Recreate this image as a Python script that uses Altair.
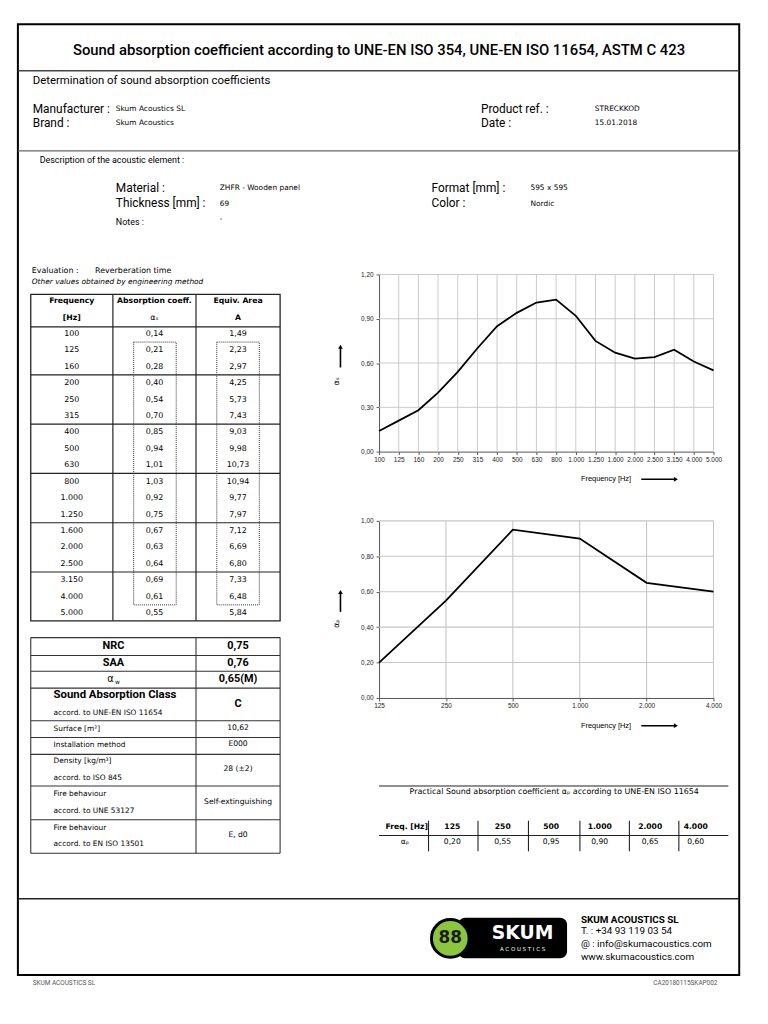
import altair as alt
import pandas as pd

# ---------------- data ----------------
freq_labels = ["100", "125", "160", "200", "250", "315", "400", "500", "630", "800",
               "1.000", "1.250", "1.600", "2.000", "2.500", "3.150", "4.000", "5.000"]
alpha_s = [0.14, 0.21, 0.28, 0.40, 0.54, 0.70, 0.85, 0.94, 1.01, 1.03,
           0.92, 0.75, 0.67, 0.63, 0.64, 0.69, 0.61, 0.55]
equiv_area = [1.49, 2.23, 2.97, 4.25, 5.73, 7.43, 9.03, 9.98, 10.73, 10.94,
              9.77, 7.97, 7.12, 6.69, 6.80, 7.33, 6.48, 5.84]
oct_labels = ["125", "250", "500", "1.000", "2.000", "4.000"]
alpha_p = [0.20, 0.55, 0.95, 0.90, 0.65, 0.60]
alpha_s_ticks = [0.0, 0.3, 0.6, 0.9, 1.2]
alpha_p_ticks = [0.0, 0.2, 0.4, 0.6, 0.8, 1.0]

summary_names = ["NRC", "SAA"]
summary_vals = ["0,75", "0,76"]
alpha_w_val = "0,65(M)"
sound_class = "C"
surface = "10,62"
install_method = "E000"
density = "28 (±2)"
fire_une = "Self-extinguishing"
fire_en = "E, d0"


def fmt(v):
    return f"{v:.2f}".replace(".", ",")


# ---------------- layout helpers ----------------
OX, OY = 8, 8
W, H = 760, 1000
AXF = "Liberation Sans"
LBL_EXPR = "replace(format(datum.value, '.2f'), '.', ',')"


def px(v):
    return v - OX


def py(v):
    return v - OY


XN = lambda f="x": alt.X(f"{f}:Q", scale=None, axis=None)
YN = lambda f="y": alt.Y(f"{f}:Q", scale=None, axis=None)


def texts(rows, **kw):
    df = pd.DataFrame(rows, columns=["t", "x", "y"])
    df["x"] = df["x"] - OX
    df["y"] = df["y"] - OY
    style = dict(align="left", baseline="middle", font="Roboto", fontSize=10, color="black")
    style.update(kw)
    return alt.Chart(df).mark_text(**style).encode(x=XN(), y=YN(), text="t:N")


def rules(segs, **kw):
    df = pd.DataFrame(segs, columns=["x", "y", "x2", "y2"])
    df["x"] -= OX; df["x2"] -= OX; df["y"] -= OY; df["y2"] -= OY
    style = dict(color="black", strokeWidth=1)
    style.update(kw)
    return alt.Chart(df).mark_rule(**style).encode(x=XN(), y=YN(), x2="x2:Q", y2="y2:Q")


def boxes(rects, **kw):
    df = pd.DataFrame(rects, columns=["x", "y", "x2", "y2"])
    df["x"] -= OX; df["x2"] -= OX; df["y"] -= OY; df["y2"] -= OY
    style = dict(fillOpacity=0, stroke="black", strokeWidth=1)
    style.update(kw)
    return alt.Chart(df).mark_rect(**style).encode(x=XN(), y=YN(), x2="x2:Q", y2="y2:Q")


def points(rows, **kw):
    df = pd.DataFrame(rows, columns=["x", "y"])
    df["x"] -= OX; df["y"] -= OY
    return alt.Chart(df).mark_point(**kw).encode(x=XN(), y=YN())


def arrow_h(x1, x2, y):
    return [rules([(x1, y, x2 - 3, y)], strokeWidth=1.6),
            points([(x2 - 3, y)], shape="triangle-right", filled=True, size=22, color="black", opacity=1)]


def arrow_v(x, y1, y2):
    return [rules([(x, y1, x, y2 + 3)], strokeWidth=1.6),
            points([(x, y2 + 3)], shape="triangle-up", filled=True, size=22, color="black", opacity=1)]


def line_chart(tag, labels, values, ticks, ymax, x0, x1, ytop, ybot, grid_color, grid_w):
    """Grid, axes and line of one frequency chart; every layer uses the same scale definition."""
    def xscale():
        return alt.Scale(type="point", domain=labels, range=[px(x0), px(x1)], padding=0)

    def yscale():
        return alt.Scale(domain=[0, ymax], range=[py(ybot), py(ytop)], nice=False, zero=True)

    xaxis = alt.Axis(orient="bottom", offset=py(ybot) - H, title=None, labelAngle=0, grid=False,
                     domainColor="#555", tickColor="#555", tickSize=3,
                     labelFont=AXF, labelFontSize=6.5, labelColor="#222", labelPadding=2)
    yaxis = alt.Axis(orient="left", offset=-px(x0), values=ticks, title=None, grid=False,
                     labelExpr=LBL_EXPR, domainColor="#555", tickColor="#555", tickSize=3,
                     labelFont=AXF, labelFontSize=6.5, labelColor="#222", labelPadding=3)

    f, lo, hi, v, f2, a = (tag + s for s in ["_f", "_lo", "_hi", "_v", "_f2", "_a"])
    gl = labels[1:]          # the first one lies on the y axis line
    gt = ticks[1:]           # the first one lies on the x axis line
    gx = pd.DataFrame({f: gl, lo: [0.0] * len(gl), hi: [ymax] * len(gl)})
    gy = pd.DataFrame({v: gt, f: [labels[0]] * len(gt), f2: [labels[-1]] * len(gt)})
    df = pd.DataFrame({f: labels, a: values})

    vgrid = alt.Chart(gx).mark_rule(color=grid_color, strokeWidth=grid_w).encode(
        x=alt.X(f"{f}:N", sort=labels, scale=xscale(), axis=None),
        y=alt.Y(f"{lo}:Q", scale=yscale(), axis=None), y2=f"{hi}:Q")
    hgrid = alt.Chart(gy).mark_rule(color=grid_color, strokeWidth=grid_w).encode(
        x=alt.X(f"{f}:N", sort=labels, scale=xscale(), axis=None), x2=f"{f2}:N",
        y=alt.Y(f"{v}:Q", scale=yscale(), axis=None))
    line = alt.Chart(df).mark_line(color="black", strokeWidth=1.8).encode(
        x=alt.X(f"{f}:N", sort=labels, scale=xscale(), axis=xaxis),
        y=alt.Y(f"{a}:Q", scale=yscale(), axis=yaxis))
    return [vgrid, hgrid, line]


layers = []

# ---------------- title + the two charts first ----------------
layers.append(texts([("Sound absorption coefficient according to UNE-EN ISO 354, UNE-EN ISO 11654, ASTM C 423", 383, 45)],
                    align="center", fontSize=15, fontWeight=500))
layers += line_chart("c1", freq_labels, alpha_s, alpha_s_ticks, 1.2, 383, 721, 272, 451, "#c9c9c9", 1)
layers += line_chart("c2", oct_labels, alpha_p, alpha_p_ticks, 1.0, 383, 721, 521, 700, "#c6c6c6", 1.1)

# chart decorations
layers.append(texts([("Frequency [Hz]", 587, 479), ("Frequency [Hz]", 587, 728)], font=AXF, fontSize=7.5))
layers.append(texts([("αₛ", 341, 380), ("αₚ", 341, 625)], font="DejaVu Sans", fontSize=8, angle=270, align="center"))
layers += arrow_h(648, 686, 479)
layers += arrow_v(344, 366, 342)
layers += arrow_h(648, 686, 728)
layers += arrow_v(344, 613, 590)

# ---------------- page frame ----------------
layers.append(boxes([(18, 19, 747, 980)], strokeWidth=2))
layers.append(rules([(18, 66, 747, 66)], strokeWidth=1.5, color="#444"))
layers.append(rules([(18, 147, 747, 147)], strokeWidth=1.2, color="#666"))
layers.append(rules([(18, 903, 747, 903)], strokeWidth=1.5, color="#222"))

# ---------------- header ----------------
layers.append(texts([("Determination of sound absorption coefficients", 33, 76)], fontSize=11.5))
layers.append(texts([("Manufacturer :", 33, 105), ("Brand :", 33, 119),
                     ("Product ref. :", 486, 105), ("Date :", 486, 119),
                     ("Material :", 117, 185), ("Thickness  [mm] :", 117, 200),
                     ("Format [mm] :", 436, 185), ("Color :", 436, 200)], fontSize=12))
layers.append(texts([("Skum Acoustics SL", 117, 105), ("Skum Acoustics", 117, 119),
                     ("STRECKKOD", 601, 105), ("15.01.2018", 601, 119),
                     ("ZHFR - Wooden panel", 222, 185), ("69", 222, 201), ("-", 222, 216),
                     ("595  x 595", 536, 185), ("Nordic", 536, 201)],
                    font="DejaVu Sans", fontSize=7.5))
layers.append(texts([("Description of the acoustic element :", 40, 156), ("Notes :", 117, 219)], fontSize=9))

# ---------------- absorption table ----------------
layers.append(texts([("Evaluation :", 32, 268), ("Reverberation time", 96, 268)], font="DejaVu Sans", fontSize=8))
layers.append(texts([("Other values obtained by engineering method", 32, 280)],
                    font="DejaVu Sans", fontSize=7.5, fontStyle="italic"))

TL, TC1, TC2, TR = 31, 114, 198, 283
T_TOP, T_HEAD, T_BOT = 292, 325, 622
ROW0, ROWH = 332, 16.6
cx = [(TL + TC1) / 2, (TC1 + TC2) / 2, (TC2 + TR) / 2]

layers.append(texts([("Frequency", cx[0], 299), ("Absorption coeff.", cx[1], 299), ("Equiv. Area", cx[2], 299),
                     ("[Hz]", cx[0], 316), ("A", cx[2], 316)],
                    font="DejaVu Sans", fontSize=7.8, fontWeight="bold", align="center"))
layers.append(texts([("αₛ", cx[1], 316)], font="DejaVu Sans", fontSize=8, align="center"))

rows = []
for i, (fq, a, e) in enumerate(zip(freq_labels, alpha_s, equiv_area)):
    y = ROW0 + ROWH * i
    rows += [(fq, cx[0], y), (fmt(a), cx[1], y), (fmt(e), cx[2], y)]
layers.append(texts(rows, font="DejaVu Sans", fontSize=8, align="center"))

segs = [(TL, T_HEAD, TR, T_HEAD), (TC1, T_TOP, TC1, T_BOT), (TC2, T_TOP, TC2, T_BOT)]
for g in range(3, len(freq_labels), 3):
    yy = ROW0 + ROWH * (g - 0.5)
    segs.append((TL, yy, TR, yy))
layers.append(rules(segs, strokeWidth=1.2, color="#222"))
layers.append(boxes([(TL, T_TOP, TR, T_BOT)], strokeWidth=1.3, stroke="#222"))
d_top = ROW0 + ROWH * 0.5
d_bot = ROW0 + ROWH * (len(freq_labels) - 1.5)
layers.append(boxes([(135, d_top, 178, d_bot), (219, d_top, 262, d_bot)],
                    strokeDash=[1, 1], strokeWidth=1, stroke="#333"))

# ---------------- summary table ----------------
hl = [639, 657, 673, 690, 723, 740, 757, 789, 823, 857]
sc = [(TL + TC2) / 2, (TC2 + TR) / 2]
layers.append(rules([(TL, y, TR, y) for y in hl] +
                    [(TL, hl[0], TL, hl[-1]), (TC2, hl[0], TC2, hl[-1]), (TR, hl[0], TR, hl[-1])],
                    strokeWidth=1.1, color="#333"))
layers.append(texts([(summary_names[0], sc[0], 648), (summary_vals[0], sc[1], 648),
                     (summary_names[1], sc[0], 665), (summary_vals[1], sc[1], 665),
                     (alpha_w_val, sc[1], 681), (sound_class, sc[1], 706)],
                    fontSize=11, fontWeight="bold", align="center"))
layers.append(texts([("α", sc[0] - 3, 681)], font="DejaVu Sans", fontSize=10, align="center"))
layers.append(texts([("w", sc[0] + 4, 684)], font="DejaVu Sans", fontSize=6, align="center"))
layers.append(texts([("Sound Absorption Class", 54, 697)], fontSize=11.5, fontWeight="bold"))
layers.append(texts([("accord. to UNE-EN ISO 11654", 54, 715), ("Surface [m²]", 54, 731),
                     ("Installation method", 54, 748), ("Density [kg/m³]", 54, 764),
                     ("accord. to ISO 845", 54, 781), ("Fire behaviour", 54, 797),
                     ("accord. to UNE 53127", 54, 814), ("Fire behaviour", 54, 831),
                     ("accord. to EN ISO 13501", 54, 848)], font="DejaVu Sans", fontSize=7.5))
layers.append(texts([(surface, sc[1], 730), (install_method, sc[1], 747), (density, sc[1], 772),
                     (fire_une, sc[1], 805), (fire_en, sc[1], 839)],
                    font="DejaVu Sans", fontSize=7.7, align="center"))

# ---------------- practical table ----------------
layers.append(rules([(383, 789, 736, 789), (383, 839, 736, 839)], strokeWidth=1.1, color="#222"))
layers.append(texts([("Practical Sound absorption coefficient αₚ according to UNE-EN ISO 11654", 560, 795)],
                    font="DejaVu Sans", fontSize=8, align="center"))
pcx = [457, 508, 557, 606, 657, 703]
seps = [433, 483, 534, 586, 636, 686]
layers.append(rules([(s, 824, s, 855) for s in seps], strokeWidth=1.1, color="#222"))
layers.append(texts([("Freq. [Hz]", 411, 830)] + [(fq, x, 830) for fq, x in zip(oct_labels, pcx)],
                    font="DejaVu Sans", fontSize=7.7, fontWeight="bold", align="center"))
layers.append(texts([("αₚ", 409, 846)] + [(fmt(v), x, 846) for v, x in zip(alpha_p, pcx)],
                    font="DejaVu Sans", fontSize=7.7, align="center"))

# ---------------- footer / logo ----------------
lg = pd.DataFrame([(463, 922, 573, 963)], columns=["x", "y", "x2", "y2"])
lg[["x", "x2"]] -= OX; lg[["y", "y2"]] -= OY
layers.append(alt.Chart(lg).mark_rect(fill="black", cornerRadius=7).encode(x=XN(), y=YN(), x2="x2:Q", y2="y2:Q"))
layers.append(points([(455, 943)], shape="circle", filled=True, size=1450, color="#8cc63e",
                     stroke="black", strokeWidth=3, opacity=1))
layers.append(texts([("88", 455, 943)], font="DejaVu Sans", fontSize=17, fontWeight="bold",
                    align="center", color="#1c1c1c"))
layers.append(texts([("SKUM", 528, 938)], font="DejaVu Sans", fontSize=19, fontWeight="bold",
                    align="center", color="white"))
layers.append(texts([("A C O U S T I C S", 528, 954)], font="DejaVu Sans", fontSize=5.5,
                    align="center", color="white"))
layers.append(texts([("SKUM ACOUSTICS SL", 587, 924)], fontSize=10, fontWeight="bold"))
layers.append(texts([("T. : +34 93 119 03 54", 587, 936), ("@ : info@skumacoustics.com", 587, 949),
                     ("www.skumacoustics.com", 587, 962)], fontSize=10))
layers.append(texts([("SKUM ACOUSTICS SL", 33, 988)], fontSize=6.5, color="#555"))
layers.append(texts([("CA20180115SKAP002", 725, 988)], fontSize=6.5, color="#555", align="right"))

chart = (
    alt.layer(*layers)
    .resolve_scale(x="independent", y="independent")
    .resolve_axis(x="independent", y="independent")
    .properties(width=W, height=H, padding=0, autosize=alt.AutoSizeParams(type="none"),
                background="white")
    .configure_view(stroke=None)
)

chart.save("out.html", embed_options={"renderer": "svg", "actions": False})
